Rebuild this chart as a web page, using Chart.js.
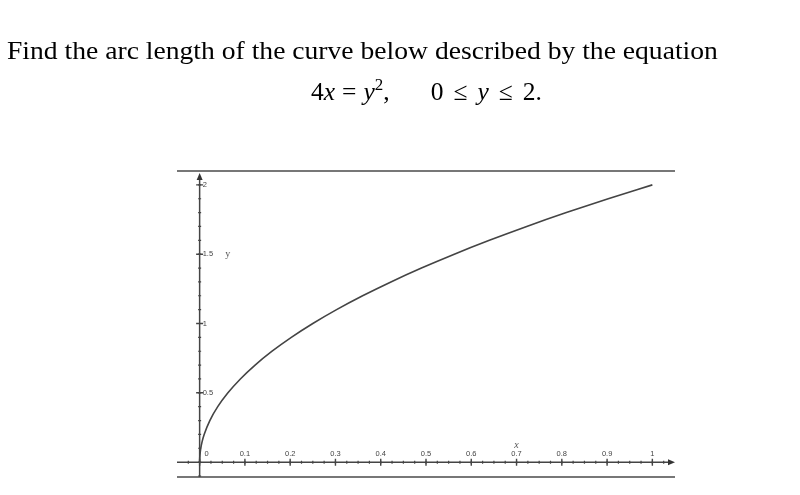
<!DOCTYPE html>
<html>
<head>
<meta charset="utf-8">
<script src="https://cdn.jsdelivr.net/npm/chart.js@4"></script>
<style>
  body { margin: 0; background: #fff; }
  #wrap { position: relative; width: 800px; height: 495px; overflow: hidden; }
  #Chart { position: absolute; left: 0; top: 0; }
  .txt { position: absolute; font-family: "Liberation Serif", "DejaVu Serif", serif; color: #000; white-space: nowrap; }
  #line1 { left: 7px; top: 36px; font-size: 25.5px; transform: scaleX(1.083); transform-origin: 0 0; }
  #line2 { left: 311px; top: 77px; font-size: 25.5px; }
  #line2 sup { font-size: 17px; vertical-align: 0; position: relative; top: -10px; }
  #line2 .eq { margin: 0 7px; }
  #line2 .le { margin: 0 10px; }
  #line2 .gap { display: inline-block; width: 41px; }
</style>
</head>
<body>
<div id="wrap">
  <canvas id="Chart" width="800" height="495"></canvas>
  <div class="txt" id="line1">Find the arc length of the curve below described by the equation</div>
  <div class="txt" id="line2">4<i>x</i><span class="eq">=</span><i>y</i><sup>2</sup>,<span class="gap"></span>0<span class="le">≤</span><i>y</i><span class="le">≤</span>2.</div>
</div>
<script>
// 曲線上の点
let curveY = [0, 0.02, 0.05, 0.1, 0.15, 0.2, 0.3, 0.4, 0.5, 0.6, 0.7, 0.8, 0.9, 1.0, 1.1, 1.2, 1.3, 1.4, 1.5, 1.6, 1.7, 1.8, 1.9, 2.0];
let curveX = [0, 0.0001, 0.000625, 0.0025, 0.005625, 0.01, 0.0225, 0.04, 0.0625, 0.09, 0.1225, 0.16, 0.2025, 0.25, 0.3025, 0.36, 0.4225, 0.49, 0.5625, 0.64, 0.7225, 0.81, 0.9025, 1.0];
// 目盛りラベル
let xTickLabels = ['0', '0.1', '0.2', '0.3', '0.4', '0.5', '0.6', '0.7', '0.8', '0.9', '1'];
let yTickLabels = ['0.5', '1', '1.5', '2'];
let xMinorStep = 0.025;
let yMinorStep = 0.1;

let points = curveX.map((x, i) => ({ x: x, y: curveY[i] }));

// 軸・枠線・目盛りを描くプラグイン
let axesPlugin = {
	id: 'axesPlugin',
	beforeDatasetsDraw(chart) {
		let ctx = chart.ctx;
		let area = chart.chartArea;
		let xs = chart.scales.x;
		let ys = chart.scales.y;
		let x0 = xs.getPixelForValue(0);
		let y0 = ys.getPixelForValue(0);
		ctx.save();

		// 上下の枠線
		ctx.strokeStyle = '#777';
		ctx.lineWidth = 2;
		ctx.beginPath();
		ctx.moveTo(area.left, area.top);
		ctx.lineTo(area.right, area.top);
		ctx.moveTo(area.left, area.bottom + 1);
		ctx.lineTo(area.right, area.bottom + 1);
		ctx.stroke();

		// 軸
		ctx.strokeStyle = '#444';
		ctx.fillStyle = '#333';
		ctx.lineWidth = 1.5;
		ctx.beginPath();
		ctx.moveTo(area.left, y0);
		ctx.lineTo(area.right - 4, y0);
		ctx.moveTo(x0, area.bottom + 1);
		ctx.lineTo(x0, area.top + 6);
		ctx.stroke();
		// 矢印
		ctx.beginPath();
		ctx.moveTo(area.right, y0);
		ctx.lineTo(area.right - 7, y0 - 3);
		ctx.lineTo(area.right - 7, y0 + 3);
		ctx.closePath();
		ctx.fill();
		ctx.beginPath();
		ctx.moveTo(x0, area.top + 2);
		ctx.lineTo(x0 - 3, area.top + 9);
		ctx.lineTo(x0 + 3, area.top + 9);
		ctx.closePath();
		ctx.fill();

		// 小目盛り
		ctx.lineWidth = 1.2;
		ctx.beginPath();
		for (let v = xs.min + xMinorStep; v < xs.max - 0.01; v += xMinorStep) {
			let px = xs.getPixelForValue(v);
			ctx.moveTo(px, y0 - 1.5);
			ctx.lineTo(px, y0 + 1.5);
		}
		for (let v = ys.min; v < ys.max - 0.05; v += yMinorStep) {
			let py = ys.getPixelForValue(v);
			ctx.moveTo(x0 - 1.5, py);
			ctx.lineTo(x0 + 1.5, py);
		}
		ctx.stroke();

		// 主目盛り
		ctx.lineWidth = 1.4;
		ctx.beginPath();
		xTickLabels.forEach(t => {
			let px = xs.getPixelForValue(parseFloat(t));
			ctx.moveTo(px, y0 - 3.5);
			ctx.lineTo(px, y0 + 3.5);
		});
		yTickLabels.forEach(t => {
			let py = ys.getPixelForValue(parseFloat(t));
			ctx.moveTo(x0 - 3.5, py);
			ctx.lineTo(x0 + 3.5, py);
		});
		ctx.stroke();

		// 目盛りラベル
		ctx.fillStyle = '#444';
		ctx.font = '7.5px "Liberation Sans", Arial, sans-serif';
		ctx.textBaseline = 'middle';
		ctx.textAlign = 'center';
		xTickLabels.forEach(t => {
			let px = xs.getPixelForValue(parseFloat(t));
			if (t === '0') px += 7;
			ctx.fillText(t, px, y0 - 8);
		});
		ctx.textAlign = 'left';
		yTickLabels.forEach(t => {
			let py = ys.getPixelForValue(parseFloat(t));
			ctx.fillText(t, x0 + 3, py);
		});

		// 軸タイトル
		ctx.fillStyle = '#555';
		ctx.font = '10px "Liberation Serif", serif';
		ctx.textAlign = 'center';
		ctx.fillText('y', x0 + 28, ys.getPixelForValue(1.5));
		ctx.font = 'italic 10px "Liberation Serif", serif';
		ctx.fillText('x', xs.getPixelForValue(0.7), y0 - 17);
		ctx.restore();
	}
};

let lineCtx = document.getElementById('Chart');
let lineConfig = {
	type: 'line',
	data: {
		datasets: [{
			data: points,
			borderColor: '#444',
			borderWidth: 1.6,
			pointRadius: 0,
			fill: false,
			cubicInterpolationMode: 'monotone',
		}],
	},
	options: {
		responsive: false,
		animation: false,
		layout: {
			padding: { left: 177, right: 125, top: 171, bottom: 19 }
		},
		plugins: {
			legend: { display: false },
			tooltip: { enabled: false },
		},
		scales: {
			x: { type: 'linear', min: -0.05, max: 1.05, display: false },
			y: { type: 'linear', min: -0.1, max: 2.1, display: false },
		},
	},
	plugins: [axesPlugin],
};
let lineChart = new Chart(lineCtx, lineConfig);
</script>
</body>
</html>
